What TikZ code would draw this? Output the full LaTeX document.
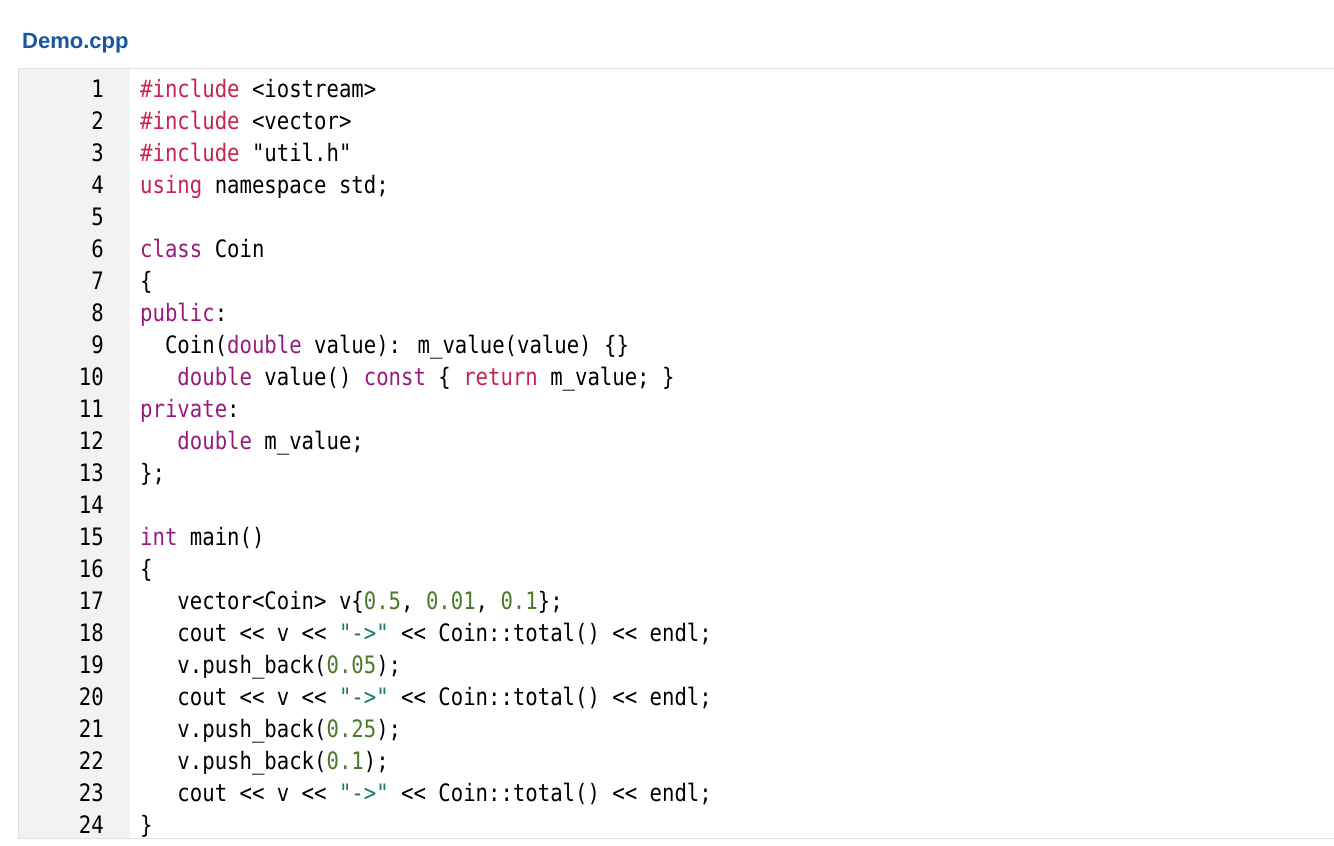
\documentclass[tikz,border=0pt]{standalone}
\usepackage{fontspec}
\newfontfamily\codefont[FakeStretch=0.86]{DejaVu Sans Mono}
\newfontfamily\titlefont{Liberation Sans}
\definecolor{kwred}{HTML}{C8234F}
\definecolor{kwpur}{HTML}{991A7E}
\definecolor{numg}{HTML}{4A7A2A}
\definecolor{strt}{HTML}{1A7A6A}
\definecolor{ttl}{HTML}{1A56A0}
\newcommand{\kR}[1]{\textcolor{kwred}{#1}}
\newcommand{\kP}[1]{\textcolor{kwpur}{#1}}
\newcommand{\kG}[1]{\textcolor{numg}{#1}}
\newcommand{\kT}[1]{\textcolor{strt}{#1}}
\begin{document}
\begin{tikzpicture}[x=1pt,y=-1pt,
  code/.style={anchor=base west,inner sep=0pt,font=\codefont\fontsize{24}{24}\selectfont},
  lnum/.style={anchor=base east,inner sep=0pt,font=\codefont\fontsize{24}{24}\selectfont}]
\useasboundingbox (0,0) rectangle (1334,846);
\fill[white] (0,0) rectangle (1334,846);
\fill[black!5] (18,68) rectangle (130,838);
\draw[black!12] (18,68) rectangle (1334,838);
\node[anchor=base west,inner sep=0pt,font=\titlefont\bfseries\fontsize{22}{22}\selectfont,text=ttl] (title) at (22,48) {Demo.cpp};
\foreach \i in {1,...,24}{\node[lnum] (n\i) at (104,{97+32*(\i-1)}) {\i};}
\newcommand{\codeline}[2]{\node[code] (c#1) at (140,{97+32*(#1-1)}) {#2};}
\codeline{1}{\kR{\#include} <iostream>}
\codeline{2}{\kR{\#include} <vector>}
\codeline{3}{\kR{\#include} "util.h"}
\codeline{4}{\kR{using} namespace std;}
\codeline{6}{\kP{class} Coin}
\codeline{7}{\{}
\codeline{8}{\kP{public}:}
\codeline{9}{\ \ Coin(\kP{double} value): m\_value(value) \{\}}
\codeline{10}{\ \ \ \kP{double} value() \kP{const} \{ \kR{return} m\_value; \}}
\codeline{11}{\kP{private}:}
\codeline{12}{\ \ \ \kP{double} m\_value;}
\codeline{13}{\};}
\codeline{15}{\kP{int} main()}
\codeline{16}{\{}
\codeline{17}{\ \ \ vector<Coin> v\{\kG{0.5}, \kG{0.01}, \kG{0.1}\};}
\codeline{18}{\ \ \ cout << v << \kT{"->"} << Coin::total() << endl;}
\codeline{19}{\ \ \ v.push\_back(\kG{0.05});}
\codeline{20}{\ \ \ cout << v << \kT{"->"} << Coin::total() << endl;}
\codeline{21}{\ \ \ v.push\_back(\kG{0.25});}
\codeline{22}{\ \ \ v.push\_back(\kG{0.1});}
\codeline{23}{\ \ \ cout << v << \kT{"->"} << Coin::total() << endl;}
\codeline{24}{\}}
\end{tikzpicture}
\end{document}
